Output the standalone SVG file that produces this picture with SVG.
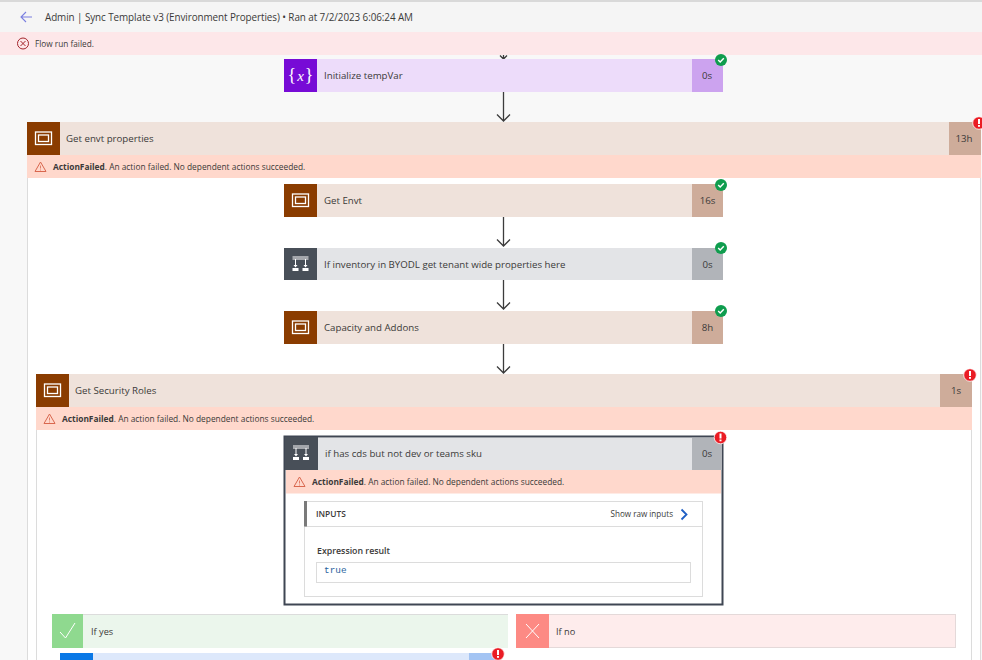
<svg xmlns="http://www.w3.org/2000/svg" width="982" height="660" viewBox="0 0 982 660">
<style>
text{font-family:"Open Sans","Noto Sans","Liberation Sans",sans-serif;font-size:9.6px;fill:#3b3a39}
.t{font-size:9.7px}
.d{font-size:9.7px;text-anchor:middle}
.a{font-size:8.350px}
.b{font-weight:700}
.ac{fill:#ffd8cc}
.bd{fill:none;stroke:#dcdcdc;stroke-width:1}
.ic{fill:none;stroke:#fff;stroke-width:1.3}
.con{fill:none;stroke:#3c3c3c;stroke-width:1.3}
</style>
<defs>
<g id="scope-ic"><rect x="-8" y="-6.500" width="16" height="12.500" class="ic"/><rect x="-5" y="-3.500" width="10" height="6.500" class="ic"/></g>
<g id="cond-ic"><path d="M-8-7H8M-8-5H8" stroke="#fff" stroke-width="1" fill="none"/><path d="M-5-5V1M5-5V1" stroke="#fff" stroke-width="1" fill="none"/><path d="M-8 4H-2V7H-8ZM2 4H8V7H2Z" fill="#fff"/><path d="M-7 1H-3L-5 3.500ZM3 1H7L5 3.500Z" fill="#fff"/></g>
<g id="ok"><circle r="6" fill="#0f9d4e"/><path d="M-2.800 0L-.8 2L2.800-1.800" fill="none" stroke="#fff" stroke-width="1.400"/></g>
<g id="err"><circle r="6.300" fill="#ea1c24" stroke="#fff" stroke-width=".8"/><rect x="-1" y="-4" width="2" height="5" fill="#fff"/><rect x="-1" y="2" width="2" height="1.800" fill="#fff"/></g>
<g id="warn"><path d="M0-5L5.500 4.500H-5.500Z" fill="none" stroke="#d9674e" stroke-width="1"/><path d="M0-1.500V1.500M0 2.500V3.500" stroke="#d9674e" stroke-width=".8"/></g>
</defs>

<rect width="982" height="660" fill="#f8f8f8"/>
<rect width="982" height="2" fill="#d9d9d9"/>
<rect y="2" width="982" height="30" fill="#f5f5f5"/>
<rect y="32" width="982" height="23" fill="#fde7e9"/>

<g id="header">
<path d="M32 17H21M26 12L21 17L26 22" fill="none" stroke="#7a7fe0" stroke-width="1.100"/>
<text id="title" x="45" y="21" style="font-size:9.900px" textLength="368">Admin | Sync Template v3 (Environment Properties) • Ran at 7/2/2023 6:06:24 AM</text>
<circle cx="23" cy="43.500" r="5.500" fill="none" stroke="#a4262c" stroke-width="1"/>
<path d="M20.500 41L25.500 46M25.500 41L20.500 46" stroke="#a4262c" stroke-width="1"/>
<text x="35" y="47" style="font-size:8.250px">Flow run failed.</text>
</g>

<g id="panels">
<rect x="27.500" y="122.500" width="953" height="560" fill="#fff" stroke="#dcdcdc"/>
<rect x="36.500" y="374.500" width="935" height="300" fill="#fff" stroke="#dcdcdc"/>
</g>

<g id="connectors">
<path class="con" d="M503.500 55V59M500 55.500L503.500 59L507 55.500"/>
<path class="con" d="M503.500 92V121M497 114.500L503.500 121L510 114.500"/>
<path class="con" d="M503.500 217V246M497 239.500L503.500 246L510 239.500"/>
<path class="con" d="M503.500 280V309M497 302.500L503.500 309L510 302.500"/>
<path class="con" d="M503.500 344V373M497 366.500L503.500 373L510 366.500"/>
</g>

<g id="init-tempvar">
<rect x="284" y="59" width="439" height="33" fill="#eddcfa"/>
<rect x="284" y="59" width="33" height="33" fill="#770bd6"/>
<rect x="692" y="59" width="31" height="33" fill="#cca3ef"/>
<text x="300.500" y="81" text-anchor="middle" style="font-family:'Liberation Serif',serif;font-size:18px;fill:#fff">{<tspan dx="1" font-style="italic" font-size="15">x</tspan><tspan dx="1">}</tspan></text>
<text x="324" y="79" class="t">Initialize tempVar</text>
<text x="707" y="79" class="d">0s</text>
<use href="#ok" x="721" y="60"/>
</g>

<g id="get-envt-properties">
<rect x="27" y="122" width="954" height="33" fill="#efe2db"/>
<rect x="27" y="122" width="33" height="33" fill="#8a3c00"/>
<rect x="949" y="122" width="32" height="33" fill="#ceac9a"/>
<use href="#scope-ic" x="43.500" y="138.500"/>
<text x="66" y="142" class="t">Get envt properties</text>
<text x="964" y="142" class="d">13h</text>
<use href="#err" x="979" y="123"/>
<rect x="27" y="155" width="954" height="23" class="ac"/>
<use href="#warn" x="40.500" y="167"/>
<text x="53" y="170" class="a"><tspan class="b">ActionFailed</tspan>. An action failed. No dependent actions succeeded.</text>
</g>

<g id="get-envt">
<rect x="284" y="184" width="439" height="33" fill="#efe2db"/>
<rect x="284" y="184" width="33" height="33" fill="#8a3c00"/>
<rect x="692" y="184" width="31" height="33" fill="#ceac9a"/>
<use href="#scope-ic" x="300.500" y="200.500"/>
<text x="324" y="204" class="t">Get Envt</text>
<text x="707.500" y="204" class="d">16s</text>
<use href="#ok" x="721" y="185"/>
</g>

<g id="if-inventory">
<rect x="284" y="248" width="439" height="32" fill="#e3e4e7"/>
<rect x="284" y="248" width="33" height="32" fill="#484f58"/>
<rect x="692" y="248" width="31" height="32" fill="#b1b4b9"/>
<use href="#cond-ic" x="300.500" y="264"/>
<text x="324" y="268" class="t">If inventory in BYODL get tenant wide properties here</text>
<text x="707.500" y="268" class="d">0s</text>
<use href="#ok" x="721" y="248"/>
</g>

<g id="capacity-addons">
<rect x="284" y="311" width="439" height="33" fill="#efe2db"/>
<rect x="284" y="311" width="33" height="33" fill="#8a3c00"/>
<rect x="692" y="311" width="31" height="33" fill="#ceac9a"/>
<use href="#scope-ic" x="300.500" y="327.500"/>
<text x="324" y="331" class="t">Capacity and Addons</text>
<text x="707.500" y="331" class="d">8h</text>
<use href="#ok" x="721" y="311"/>
</g>

<g id="get-security-roles">
<rect x="36" y="374" width="936" height="33" fill="#efe2db"/>
<rect x="36" y="374" width="33" height="33" fill="#8a3c00"/>
<rect x="940" y="374" width="32" height="33" fill="#ceac9a"/>
<use href="#scope-ic" x="52.500" y="390.500"/>
<text x="75" y="394" class="t">Get Security Roles</text>
<text x="956" y="394" class="d">1s</text>
<use href="#err" x="970" y="375"/>
<rect x="36" y="407" width="936" height="23" class="ac"/>
<use href="#warn" x="49.500" y="419"/>
<text x="62" y="422" class="a"><tspan class="b">ActionFailed</tspan>. An action failed. No dependent actions succeeded.</text>
</g>

<g id="if-has-cds">
<rect x="284.500" y="436.500" width="438" height="168" fill="#fff" stroke="#3f4653" stroke-width="2"/>
<rect x="286" y="438" width="435" height="32" fill="#e3e4e7"/>
<rect x="285" y="437" width="33" height="33" fill="#484f58"/>
<rect x="692" y="438" width="30" height="32" fill="#b1b4b9"/>
<use href="#cond-ic" x="301" y="453"/>
<text x="325" y="457" class="t">if has cds but not dev or teams sku</text>
<text x="707" y="457" class="d">0s</text>
<use href="#err" x="720.500" y="437.500"/>
<rect x="286" y="470" width="435" height="23.500" class="ac"/>
<use href="#warn" x="299.500" y="482"/>
<text x="312" y="485" class="a"><tspan class="b">ActionFailed</tspan>. An action failed. No dependent actions succeeded.</text>
<rect x="304.500" y="501.500" width="398" height="95" class="bd"/>
<path d="M305 526.500H703" class="bd"/>
<rect x="304" y="501" width="3" height="25.500" fill="#7a7a7a"/>
<text x="316" y="517" style="font-size:8.400px;font-weight:600">INPUTS</text>
<text x="673" y="517" text-anchor="end" style="font-size:8.100px">Show raw inputs</text>
<path d="M681.500 509.500L686.500 514.500L681.500 519.500" fill="none" stroke="#1f5fc4" stroke-width="1.800"/>
<text x="317" y="554" style="font-size:8.800px;font-weight:600">Expression result</text>
<rect x="316.500" y="562.500" width="374" height="20" class="bd"/>
<text x="324" y="573" style="font-family:'Liberation Mono',monospace;font-size:9.400px;fill:#2a5f9e">true</text>
</g>

<g id="if-yes">
<rect x="52" y="614" width="456" height="34" fill="#ebf6ec"/>
<path d="M52 614.500H508" class="bd"/>
<rect x="52" y="614" width="31" height="34" fill="#8fd98f"/>
<path d="M60 632L65.500 638L75 623" fill="none" stroke="#fff" stroke-width="1"/>
<text x="91" y="635" class="t" style="font-size:9.200px">If yes</text>
</g>

<g id="if-no">
<rect x="516.500" y="614.500" width="439" height="33" fill="#feecec" stroke="#e4d9d9"/>
<rect x="516" y="614" width="33" height="34" fill="#fd8a84"/>
<path d="M526 624L539 638M539 624L526 638" fill="none" stroke="#fff" stroke-width="1"/>
<text x="556" y="635" class="t" style="font-size:9.200px">If no</text>
</g>

<g id="blue-action">
<rect x="60" y="653" width="439" height="7" fill="#dde8fb"/>
<rect x="60" y="653" width="33" height="7" fill="#0a78e6"/>
<rect x="469" y="653" width="30" height="7" fill="#a3c4f3"/>
<use href="#err" x="498" y="654"/>
</g>
</svg>
